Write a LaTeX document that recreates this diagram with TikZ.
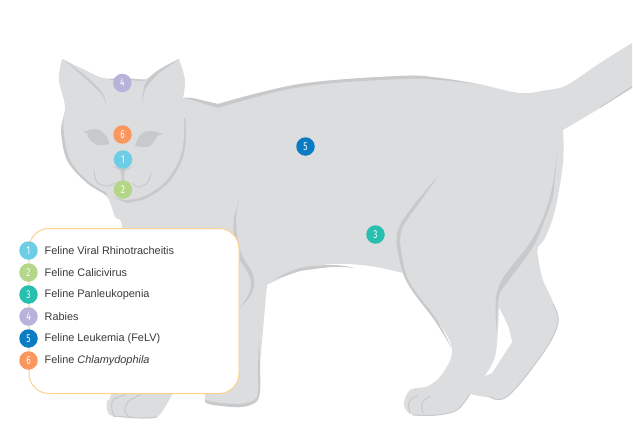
\documentclass[tikz,border=0pt]{standalone}
\usepackage{fontspec}
\setmainfont{Liberation Sans}
\newfontfamily\numfont[FakeStretch=0.72,Numbers=Lining]{Fira Sans}
\definecolor{catbody}{HTML}{DCDDDF}
\definecolor{catshade}{HTML}{C8C9CB}
\definecolor{legline}{HTML}{FDD08F}
\definecolor{legtext}{HTML}{3A3A3A}
\definecolor{cone}{HTML}{6ECDE6}
\definecolor{ctwo}{HTML}{B3D688}
\definecolor{cthree}{HTML}{27BFB0}
\definecolor{cfour}{HTML}{B8B3DA}
\definecolor{cfive}{HTML}{0A7CC4}
\definecolor{csix}{HTML}{F9975E}
\tikzset{
  badge/.style={circle,inner sep=0pt,minimum size=18.5pt,text=white,font=\numfont\fontsize{11.5}{11.5}\selectfont},
  legendlabel/.style={anchor=west,inner sep=0pt,text=legtext,font=\fontsize{10.9}{12}\selectfont},
  crease/.style={fill=catshade,draw=none},
  thinline/.style={draw=catshade,line width=1pt,line cap=round,fill=none},
  legendbox/.style={draw=legline,line width=1pt,fill=white,rounded corners=20pt}
}
\newcommand{\lens}[2]{\fill[crease] plot[smooth,tension=0.6] coordinates {#1} -- plot[smooth,tension=0.6] coordinates {#2} -- cycle;}
\begin{document}
\begin{tikzpicture}[x=1pt,y=-1pt]
\useasboundingbox (0,0) rectangle (633,434);
% body
\fill[catbody]
  plot[smooth,tension=0.6] coordinates {(62,59) (59,80) (65,107) (61,130) (67,160) (87,183) (107,197) (115,217) (122,228) (120,300) (112,388) (107,400)}
  -- plot[smooth,tension=0.6] coordinates {(107,400) (107,410) (113,416) (140,418) (157,417) (168,402) (180,380)}
  -- (205,393) -- plot[smooth,tension=0.6] coordinates {(205,393) (206,401) (213,404) (240,407) (256,402) (260,390) (260,367) (263,330) (267,285)}
  -- plot[smooth,tension=0.6] coordinates {(267,285) (300,270) (333,264) (370,266) (403,273)}
  -- plot[smooth,tension=0.6] coordinates {(403,273) (410,287) (437,320) (452,349) (443,373) (428,386) (410,390) (404,405) (413,415) (437,415) (457,410) (470,394)}
  -- plot[smooth,tension=0.6] coordinates {(470,394) (487,397) (508,396) (543,353) (558,323) (553,302) (543,280) (538,257) (538,247) (545,238) (555,210) (563,163) (563,130)}
  -- plot[smooth,tension=0.6] coordinates {(563,130) (600,108) (632,87)}
  -- (632,43)
  -- plot[smooth,tension=0.6] coordinates {(632,43) (600,63) (567,85) (547,90) (520,93) (483,85) (440,78) (400,76) (300,84) (218,104)}
  -- plot[smooth,tension=0.6] coordinates {(218,104) (192,99) (183,98)}
  -- plot[smooth,tension=0.6] coordinates {(183,98) (185,80) (179,59)}
  -- plot[smooth,tension=0.6] coordinates {(179,59) (160,70) (145,79) (123,78) (103,78) (85,70) (62,59)}
  -- cycle;
% gap between hind legs
\fill[white] plot[smooth,tension=0.6] coordinates {(499,308) (508,326) (512,342)} -- (492,373) -- (485,376) -- plot[smooth,tension=0.6] coordinates {(485,376) (495,357) (498,330) (499,308)} -- cycle;
% head shading
\lens{(65,110) (63.5,130) (70,160) (88,181) (107,193)}{(107,195) (87,183) (67,160) (61,130)}
\lens{(110,196) (127,200) (147,195) (167,180) (180,158) (184,137) (184,118)}{(185,118) (186,137) (182,160) (168,183) (147,198) (127,203)}
% ears
\lens{(63,59) (87,77) (103,94) (106,106)}{(106,106) (102,95) (86,79)}
\lens{(179,59) (157,71) (145,84) (142,105)}{(142,105) (146,88) (159,73)}
\lens{(107,80) (123,78) (145,80)}{(145,81) (123,80)}
% eyes
\fill[catshade] plot[smooth,tension=0.6] coordinates {(83,132) (97,129) (107,137) (109,144)} -- plot[smooth,tension=0.6] coordinates {(109,144) (98,145) (90,140) (87,133)} -- cycle;
\fill[catshade] plot[smooth,tension=0.6] coordinates {(163,134) (150,131) (140,135) (135,146)} -- plot[smooth,tension=0.6] coordinates {(135,146) (148,147) (155,140) (157,136)} -- cycle;
% nose and mouth
\lens{(112,166) (122,168) (134,167)}{(134,167) (125,171) (124,180) (122,180) (121,171)}
\draw[thinline] plot[smooth,tension=0.6] coordinates {(94,171) (97,182) (107,186) (115,183)};
\draw[thinline] plot[smooth,tension=0.6] coordinates {(151,173) (147,183) (138,187) (132,183)};
% back
\lens{(218,104) (300,84) (400,76) (440,78) (483,85)}{(483,85) (440,80) (400,79) (300,87) (218,108)}
\lens{(183,98) (192,98) (218,104)}{(218,108) (192,100)}
% tail
\lens{(632,86) (600,107)}{(600,108) (632,88)}
% shoulder and belly
\lens{(243,185) (236,217) (240,250) (252,272) (254,282)}{(254,282) (248,272) (235,250) (234,217)}
\lens{(273,280) (300,268) (333,265) (355,268)}{(355,268) (333,267) (300,271)}
% hind leg creases
\lens{(438,176) (413,206) (398,230) (398,253) (408,284) (435,321) (452,349)}{(452,349) (437,320) (410,283) (401.5,253) (401.5,230) (415,209)}
\lens{(558,147) (550,197) (533,238) (505,275) (497,293) (495.5,310) (497,333)}{(497,333) (497.5,310) (500,293) (509,280) (535,243) (553,197)}
\draw[thinline] plot[smooth,tension=0.6] coordinates {(553,304) (558,323) (543,353) (508,396) (490,397)};
% hind paw
\draw[thinline] plot[smooth,tension=0.6] coordinates {(418,395) (409,402) (410,413)};
\draw[thinline] plot[smooth,tension=0.6] coordinates {(430,396) (422,403) (423,413)};
\draw[thinline] plot[smooth,tension=0.6] coordinates {(413,415) (437,415) (457,410) (470,394)};
% front paws
\draw[thinline] plot[smooth,tension=0.6] coordinates {(125,395) (113,400) (112,410) (115,417)};
\draw[thinline] plot[smooth,tension=0.6] coordinates {(140,395) (128,402) (125,412) (130,417)};
\draw[thinline] plot[smooth,tension=0.6] coordinates {(113,416) (140,418) (157,417)};
\lens{(259,340) (258,367) (258,392) (254,400) (240,404) (213,402) (205,399)}{(205,402) (213,405) (240,407) (256,402) (260,390) (260,367)}
% leg crease behind the legend corner
\lens{(240,253) (253,277) (252,293) (240,308)}{(240,308) (249,293) (250,278) (238,256)}
% legend
\node[legendbox,minimum width=210pt,minimum height=165pt,anchor=north west,inner sep=0pt] (legend) at (28.5,228) {};
\node[legendlabel] (t1) at (44.5,250.5) {Feline Viral Rhinotracheitis};
\node[legendlabel] (t2) at (44.5,272.5) {Feline Calicivirus};
\node[legendlabel] (t3) at (44.5,294.5) {Feline Panleukopenia};
\node[legendlabel] (t4) at (44.5,316.5) {Rabies};
\node[legendlabel] (t5) at (44.5,338.5) {Feline Leukemia (FeLV)};
\node[legendlabel] (t6) at (44.5,360.5) {Feline \textit{Chlamydophila}};
\node[badge,fill=cone] (k1) at (28.5,250.5) {1};
\node[badge,fill=ctwo] (k2) at (28.5,272.5) {2};
\node[badge,fill=cthree] (k3) at (28.5,294.5) {3};
\node[badge,fill=cfour] (k4) at (28.5,316.5) {4};
\node[badge,fill=cfive] (k5) at (28.5,338.5) {5};
\node[badge,fill=csix] (k6) at (28.5,360.5) {6};
% markers on the cat
\node[badge,fill=cfour] (m4) at (122.3,83) {4};
\node[badge,fill=csix] (m6) at (122.5,134.5) {6};
\node[badge,fill=cone] (m1) at (123,159.5) {1};
\node[badge,fill=ctwo] (m2) at (123,189.5) {2};
\node[badge,fill=cfive] (m5) at (305.5,146.5) {5};
\node[badge,fill=cthree] (m3) at (375.5,234.5) {3};
\end{tikzpicture}
\end{document}
